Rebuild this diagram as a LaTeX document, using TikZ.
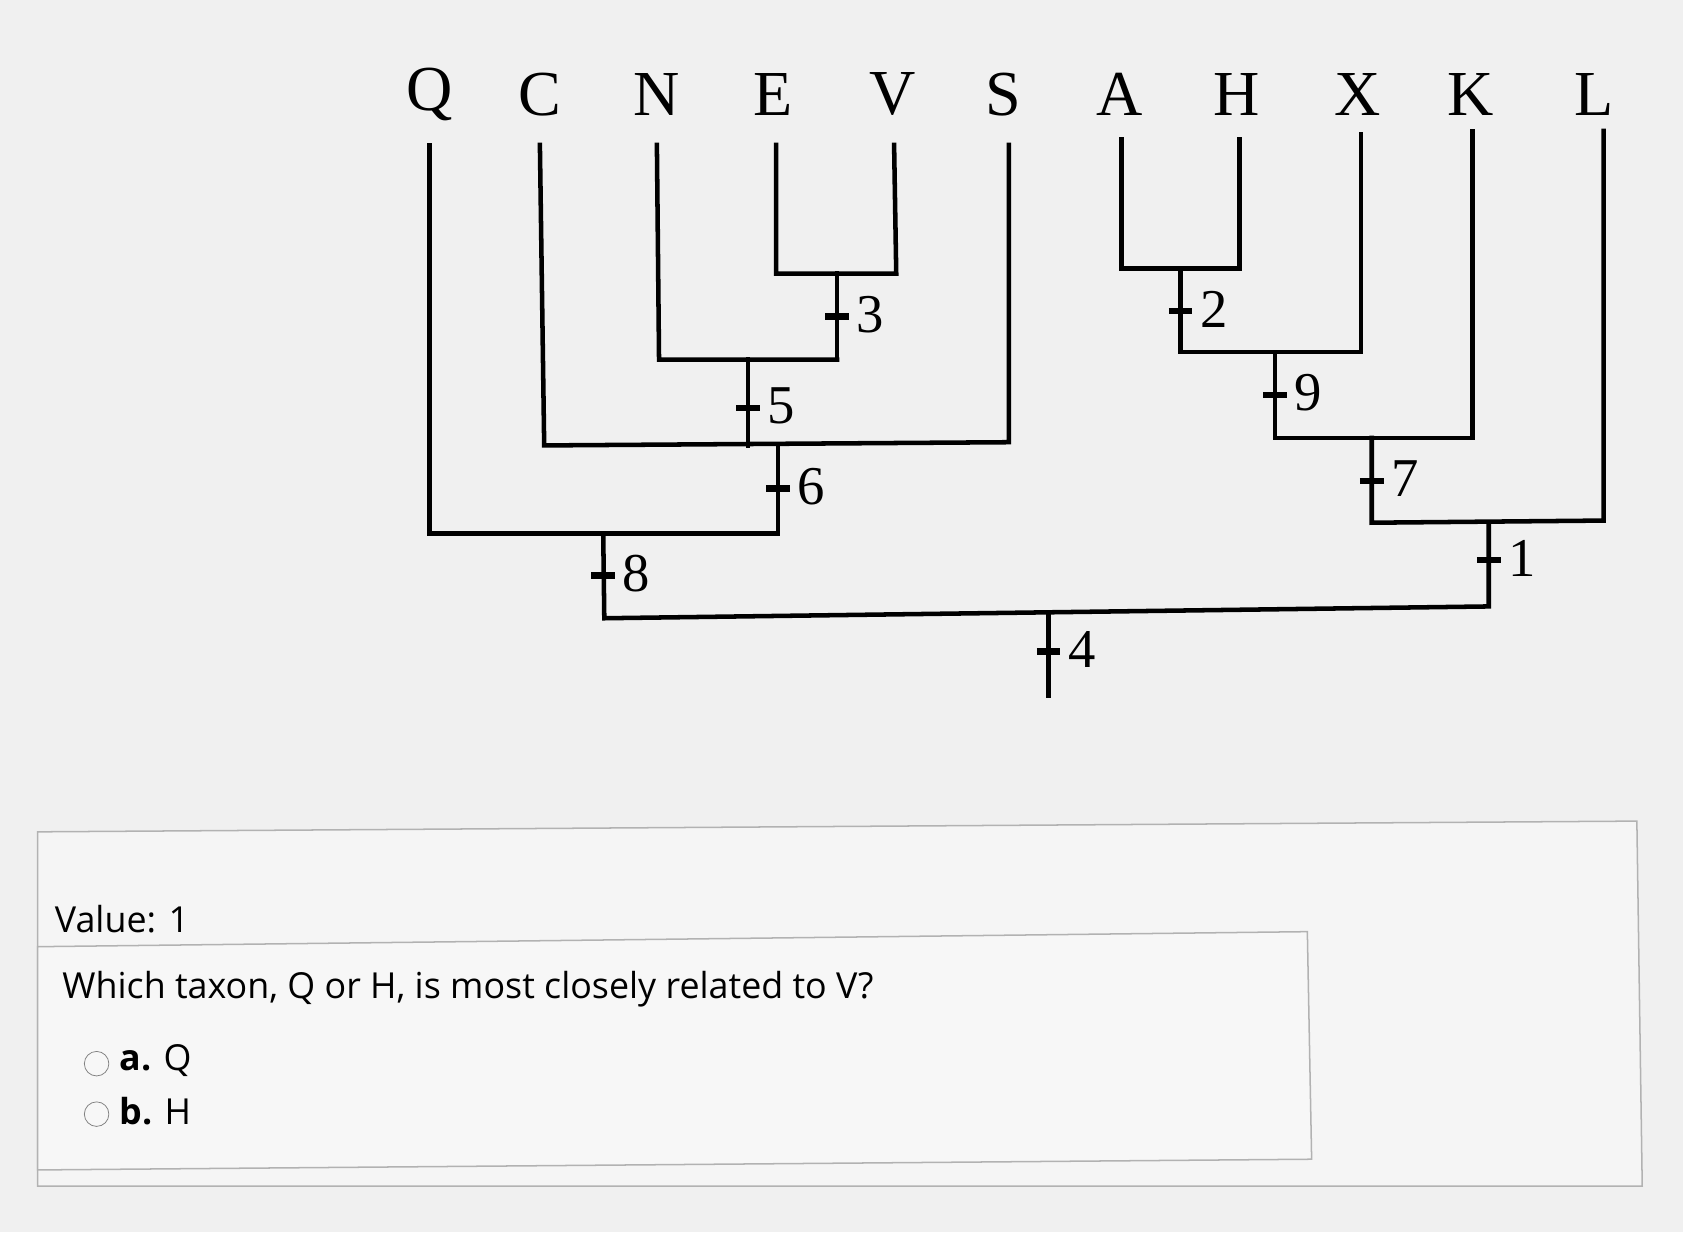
\documentclass[tikz,border=0pt]{standalone}
\usepackage{fontspec}
\setmainfont{Liberation Serif}
\newfontfamily\uifont{Open Sans}
\begin{document}
\begin{tikzpicture}[x=0.02cm,y=-0.02cm,
  br/.style={line width=2.4pt,line cap=rect},
  tk/.style={line width=3.4pt},
  tax/.style={font=\fontsize{34}{36}\selectfont},
  num/.style={font=\fontsize{29}{30}\selectfont,anchor=west},
  ui/.style={font=\uifont\fontsize{19}{22}\selectfont,anchor=west}]
\fill[gray!12] (0,0) rectangle (1568,1148);
\useasboundingbox (0,0) rectangle (1568,1148);
\draw[gray!60,line width=0.8pt,fill=gray!8] (35,1105) -- (35,775) -- (1525,765) -- (1530,1105) -- cycle;
\draw[gray!60,line width=0.8pt,fill=gray!6] (35,882) -- (1218,868) -- (1222,1080) -- (35,1090) -- cycle;
\node[ui] (val) at (45,856) {Value: 1};
\node[ui] (q) at (52,922) {Which taxon, Q or H, is most closely related to V?};
\node[draw=gray,circle,minimum size=13pt,inner sep=0pt] (ra) at (90,991) {};
\node[draw=gray,circle,minimum size=13pt,inner sep=0pt] (rb) at (90,1038) {};
\node[ui] (oa) at (105,988) {\textbf{a.} Q};
\node[ui] (ob) at (105,1035) {\textbf{b.} H};
% taxa
\foreach \n/\x in {Q/400,C/503,N/612,E/720,V/832,S/935,A/1043,H/1152,X/1265,K/1370,L/1485}
  \node[tax] (t\n) at (\x,88) {\n};
% tree
\draw[br] (400,135) -- (400,497) -- (725,497);
\draw[br] (503,135) -- (507,415) -- (940,412) -- (940,135);
\draw[br] (612,135) -- (614,335) -- (780,335);
\draw[br] (723,135) -- (723,255) -- (835,255) -- (833,135);
\draw[br] (780,255) -- (780,335);
\draw[br] (697,335) -- (697,415);
\draw[br] (725,415) -- (725,497);
\draw[br] (1045,130) -- (1045,250) -- (1155,250) -- (1155,130);
\draw[br] (1100,250) -- (1100,328) -- (1268,328) -- (1268,125);
\draw[br] (1188,328) -- (1188,408) -- (1372,408) -- (1372,122);
\draw[br] (1278,408) -- (1278,487) -- (1494,485) -- (1494,122);
\draw[br] (562,497) -- (563,576) -- (1387,565) -- (1387,487);
\draw[br] (977,572) -- (977,648);
\foreach \x/\y/\l in {780/295/3,697/380/5,725/455/6,562/536/8,1100/290/2,1188/368/9,1278/448/7,1387/522/1,977/607/4}{
  \draw[tk] (\x-11,\y) -- (\x+11,\y);
  \node[num] at (\x+12,\y-2) {\l};}
\end{tikzpicture}
\end{document}
